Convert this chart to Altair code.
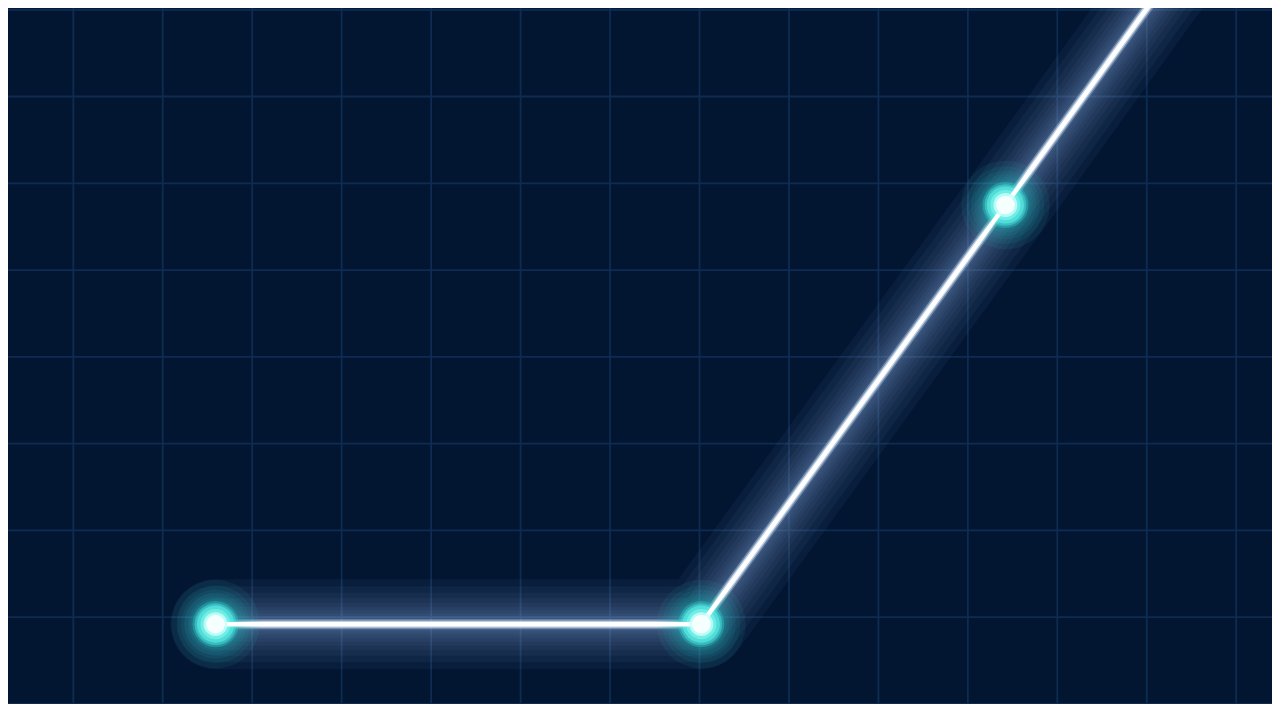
import altair as alt
import pandas as pd

# Line path values (grid units); last point continues off the top edge
line_x = [1.59, 7.02, 10.42, 12.78]
line_y = [-0.08, -0.08, 4.75, 8.13]

# Highlighted nodes
node_x = [1.59, 7.02, 10.42]
node_y = [-0.08, -0.08, 4.75]

# Grid positions
grid_x = list(range(-1, 15))
grid_y = list(range(-1, 8))

BG = "#021632"
GRID = "#0f2d54"

line_df = pd.DataFrame({"x": line_x, "y": line_y})
node_df = pd.DataFrame({"x": node_x, "y": node_y})
gx_df = pd.DataFrame({"x": grid_x})
gy_df = pd.DataFrame({"y": grid_y})

xs = alt.Scale(domain=[-0.73, 13.40], nice=False, zero=False)
ys = alt.Scale(domain=[-1.0, 7.02], nice=False, zero=False)

X = alt.X("x:Q", scale=xs, axis=None)
Y = alt.Y("y:Q", scale=ys, axis=None)

grid_v = alt.Chart(gx_df).mark_rule(color=GRID, strokeWidth=1.8, opacity=0.9, clip=True).encode(x=X)
grid_h = alt.Chart(gy_df).mark_rule(color=GRID, strokeWidth=1.8, opacity=0.9, clip=True).encode(y=Y)


def line_layer(width, color, opacity):
    return alt.Chart(line_df).mark_line(
        strokeWidth=width, color=color, opacity=opacity, clip=True,
        strokeCap="round", strokeJoin="round"
    ).encode(x=X, y=Y)


def node_layer(d, color, opacity):
    return alt.Chart(node_df).mark_circle(
        size=3.1416 * (d / 2) ** 2, color=color, opacity=opacity, clip=True
    ).encode(x=X, y=Y)


layers = [grid_v, grid_h]
for w in [90, 76, 63, 52, 43, 35, 28, 22, 17, 13]:
    layers.append(line_layer(w, "#8fb2dc", 0.06))
layers.append(line_layer(10, "#c4dcf5", 0.4))
layers.append(line_layer(7, "#e6f2ff", 0.65))
for d in [100, 88, 78, 70, 63, 57]:
    layers.append(node_layer(d, "#1fb8bd", 0.09))
layers.append(node_layer(52, "#35d8d4", 0.35))
layers.append(node_layer(47, "#4ae4de", 0.5))
layers.append(node_layer(42, "#5eece5", 0.65))
layers.append(node_layer(34, "#7ff3ec", 0.7))
layers.append(line_layer(4.5, "#ffffff", 1.0))
layers.append(node_layer(27, "#c9fffb", 0.8))
layers.append(node_layer(21, "#f4fffe", 1.0))

chart = alt.layer(*layers).properties(
    width=1264, height=696, background=BG, padding=0,
    autosize=alt.AutoSizeParams(type="none")
).configure_view(stroke="transparent", fill=BG)

chart.save("out.html", embed_options={"renderer": "svg", "actions": False})
